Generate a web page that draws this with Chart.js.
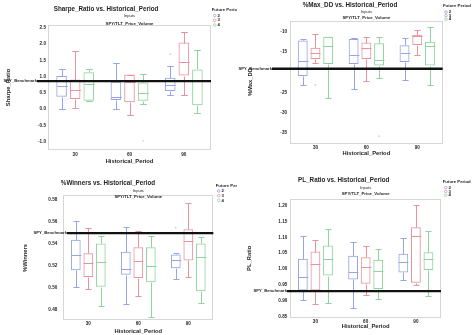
<!DOCTYPE html>
<html>
<head>
<meta charset="utf-8">
<script src="https://cdn.jsdelivr.net/npm/chart.js@4.4.1/dist/chart.umd.min.js"></script>
<style>
  html, body { margin: 0; padding: 0; background: #fff; }
  #wrap { position: relative; width: 474px; height: 335px; overflow: hidden; }
  canvas { position: absolute; }
</style>
</head>
<body>
<div id="wrap">
  <canvas id="c1" width="237" height="167" style="left:0;top:0"></canvas>
  <canvas id="c2" width="237" height="167" style="left:237px;top:0"></canvas>
  <canvas id="c3" width="237" height="168" style="left:0;top:167px"></canvas>
  <canvas id="c4" width="237" height="168" style="left:237px;top:167px"></canvas>
</div>
<script>
// --- data: [low whisker, Q1, median, Q3, high whisker] per historical period ---
const periods = ["30", "60", "90"];
const futurePeriods = ["2", "3", "4"];

const sharpeFut2 = [[0.01, 0.38, 0.71, 1.02, 1.22], [0.01, 0.28, 0.38, 0.84, 1.43], [0.45, 0.56, 0.74, 0.96, 1.32]];
const sharpeFut3 = [[0.04, 0.31, 0.58, 0.91, 1.79], [-0.19, 0.21, 0.84, 1.06, 1.06], [0.45, 1.03, 1.46, 2.04, 2.36]];
const sharpeFut4 = [[0.24, 0.26, 0.76, 1.13, 1.22], [0.15, 0.26, 0.50, 0.82, 1.08], [-0.11, 0.12, 0.85, 1.22, 1.81]];
const sharpeOutliers = [[1, 2, -0.97], [2, 0, 1.69]]; // [period, future, value]
const sharpeBenchmark = 0.86;

const maxddFut2 = [[-23.2, -20.9, -17.2, -12.1, -11.8], [-24.1, -17.9, -15.8, -11.7, -11.4], [-21.8, -17.4, -15.3, -13.3, -11.6]];
const maxddFut3 = [[-17.6, -16.7, -15.3, -13.9, -10.6], [-22.1, -16.7, -14.0, -12.6, -11.2], [-15.8, -13.2, -11.0, -10.7, -9.6]];
const maxddFut4 = [[-26.4, -17.9, -13.4, -11.2, -11.2], [-21.5, -18.3, -16.9, -12.8, -11.2], [-23.0, -18.3, -13.5, -12.4, -8.7]];
const maxddOutliers = [[0, 1, -23.1], [1, 2, -35.8]];
const maxddBenchmark = -19.1;

const winnersFut2 = [[0.501, 0.516, 0.530, 0.544, 0.561], [0.485, 0.512, 0.517, 0.533, 0.556], [0.508, 0.518, 0.5255, 0.5305, 0.5315]];
const winnersFut3 = [[0.499, 0.510, 0.523, 0.5315, 0.555], [0.493, 0.509, 0.5245, 0.537, 0.552], [0.510, 0.525, 0.543, 0.5535, 0.5775]];
const winnersFut4 = [[0.4835, 0.501, 0.524, 0.5405, 0.547], [0.473, 0.505, 0.520, 0.537, 0.547], [0.4865, 0.497, 0.5285, 0.5405, 0.5465]];
const winnersOutliers = [[2, 0, 0.555]];
const winnersBenchmark = 0.55;

const plFut2 = [[0.903, 0.932, 0.974, 1.032, 1.105], [0.877, 0.967, 0.990, 1.042, 1.084], [0.966, 0.989, 1.021, 1.048, 1.098]];
const plFut3 = [[0.888, 0.932, 1.016, 1.055, 1.092], [0.919, 0.953, 1.006, 1.037, 1.072], [0.948, 0.956, 1.103, 1.132, 1.202]];
const plFut4 = [[0.892, 0.979, 1.032, 1.074, 1.126], [0.906, 0.937, 0.992, 1.029, 1.063], [0.913, 0.997, 1.030, 1.053, 1.121]];
const plOutliers = [];
const plBenchmark = 0.93;

const seriesColors = ["#95a5e6", "#e8929f", "#8fd49c"];
const FONT = "'Liberation Sans', Arial, sans-serif";
const TEXT = "#1e1e1e";

// whiskers, medians, outliers, benchmark, titles and legend on top of the floating bars
const boxPlot = {
  id: "boxPlot",
  beforeDatasetsDraw(chart) {
    const { ctx, chartArea: a } = chart;
    ctx.save();
    ctx.strokeStyle = "#d6d6d6";
    ctx.lineWidth = 1;
    ctx.strokeRect(Math.round(a.left) + 0.5, Math.round(a.top) + 0.5,
      Math.round(a.right - a.left) - 1, Math.round(a.bottom - a.top) - 1);
    ctx.restore();
  },
  afterDatasetsDraw(chart, args, opts) {
    const { ctx, chartArea: a, scales: { y } } = chart;
    const px = v => Math.round(v) + 0.5;
    const py = v => px(y.getPixelForValue(v));
    ctx.save();
    ctx.lineWidth = 1;
    chart.data.datasets.forEach((ds, i) => {
      chart.getDatasetMeta(i).data.forEach((bar, j) => {
        const [lo, q1, med, q3, hi] = ds.stats[j];
        const x = px(bar.x), half = bar.width / 2, cap = half * 0.62;
        ctx.strokeStyle = ds.borderColor;
        ctx.beginPath();
        ctx.moveTo(x, py(hi)); ctx.lineTo(x, py(q3));
        ctx.moveTo(x, py(q1)); ctx.lineTo(x, py(lo));
        ctx.moveTo(x - cap, py(hi)); ctx.lineTo(x + cap, py(hi));
        ctx.moveTo(x - cap, py(lo)); ctx.lineTo(x + cap, py(lo));
        ctx.moveTo(x - half, py(med)); ctx.lineTo(x + half, py(med));
        ctx.stroke();
      });
    });
    opts.outliers.forEach(([p, s, v]) => {
      const bar = chart.getDatasetMeta(s).data[p];
      ctx.fillStyle = seriesColors[s] + "99";
      ctx.beginPath();
      ctx.arc(bar.x, y.getPixelForValue(v), 0.9, 0, Math.PI * 2);
      ctx.fill();
    });
    // benchmark
    const by = y.getPixelForValue(opts.bench);
    ctx.strokeStyle = "#111";
    ctx.lineWidth = 2.4;
    ctx.beginPath();
    ctx.moveTo(opts.benchX, by);
    ctx.lineTo(a.right, by);
    ctx.stroke();
    ctx.fillStyle = TEXT;
    ctx.font = "bold 4.2px " + FONT;
    ctx.textAlign = "right";
    ctx.textBaseline = "middle";
    ctx.fillText("SPY_Benchmark", opts.benchX, by);
    ctx.restore();
  },
  afterDraw(chart, args, opts) {
    const { ctx, chartArea: a } = chart;
    const mid = (a.left + a.right) / 2;
    ctx.save();
    ctx.fillStyle = TEXT;
    ctx.textBaseline = "middle";
    ctx.textAlign = "center";
    ctx.font = "bold 6.3px " + FONT;
    ctx.fillText(opts.title, opts.titleX, opts.titleY);
    ctx.font = "4.1px " + FONT;
    ctx.fillText("Inputs", mid, opts.subY[0]);
    ctx.font = "bold 4.3px " + FONT;
    ctx.fillText("SPY/TLT_Price_Volume", mid, opts.subY[1]);
    // legend
    ctx.textAlign = "left";
    ctx.font = "bold 4.3px " + FONT;
    ctx.fillText("Future Period", opts.legX, opts.legY);
    futurePeriods.forEach((f, i) => {
      const ly = opts.legY0 + i * opts.legDy;
      ctx.strokeStyle = seriesColors[i];
      ctx.lineWidth = 0.8;
      ctx.beginPath();
      ctx.arc(opts.legX + 3, ly, 1.3, 0, Math.PI * 2);
      ctx.stroke();
      ctx.fillStyle = TEXT;
      ctx.fillText(f, opts.legX + 5.8, ly);
    });
    ctx.restore();
  }
};

function makePanel(p) {
  const datasets = p.fut.map((s, i) => ({
    label: futurePeriods[i],
    data: s.map(b => [b[1], b[3]]),
    stats: s,
    borderColor: seriesColors[i],
    backgroundColor: "rgba(255,255,255,0)",
    borderWidth: 1,
    borderSkipped: false,
    categoryPercentage: 0.75,
    barPercentage: 0.78
  }));

  return new Chart(document.getElementById(p.id), {
    type: "bar",
    data: { labels: periods, datasets },
    options: {
      responsive: false,
      animation: false,
      layout: { padding: p.pad },
      plugins: {
        legend: { display: false },
        title: { display: false },
        tooltip: { enabled: false },
        boxPlot: p.overlay
      },
      scales: {
        x: {
          grid: { display: false, drawTicks: false },
          border: { display: false },
          ticks: { color: TEXT, padding: p.xTickPad, font: { family: FONT, size: 4.6, weight: "bold" } },
          title: {
            display: true, text: "Historical_Period", color: TEXT,
            padding: { top: 0, bottom: p.xTitlePad },
            font: { family: FONT, size: 5.8, weight: "bold" }
          },
          afterFit(s) { s.height = p.xH; }
        },
        y: {
          min: p.min,
          max: p.max,
          grid: { display: false, drawTicks: false },
          border: { display: false },
          ticks: {
            stepSize: p.step,
            includeBounds: false,
            color: TEXT,
            padding: p.yTickPad,
            font: { family: FONT, size: 4.6, weight: "bold" },
            callback: v => (p.hide || []).includes(v) ? "" : v.toFixed(p.digits)
          },
          title: {
            display: true, text: p.yTitle, color: TEXT,
            padding: { top: p.yTitlePad, bottom: 0 },
            font: { family: FONT, size: 5.8, weight: "bold" }
          },
          afterFit(s) { s.width = p.yW; }
        }
      }
    },
    plugins: [boxPlot]
  });
}

makePanel({
  id: "c1", yTitle: "Sharpe_Ratio",
  fut: [sharpeFut2, sharpeFut3, sharpeFut4],
  min: -1.25, max: 2.58, step: 0.5, digits: 1,
  pad: { left: 0, right: 26, top: 25, bottom: 0 }, yW: 48, xH: 17,
  xTickPad: 1.5, xTitlePad: 2, yTickPad: 2, yTitlePad: 4.7,
  overlay: {
    title: "Sharpe_Ratio vs. Historical_Period", titleX: 106, titleY: 9, subY: [15.7, 24],
    legX: 211.7, legY: 9.5, legY0: 15.5, legDy: 4.8,
    outliers: sharpeOutliers, bench: sharpeBenchmark, benchX: 37
  }
});

makePanel({
  id: "c2", yTitle: "%Max_DD",
  fut: [maxddFut2, maxddFut3, maxddFut4],
  min: -37.6, max: -7.2, step: 5, digits: 0, hide: [-20],
  pad: { left: 0, right: 31.3, top: 20.7, bottom: 0 }, yW: 53, xH: 23.5,
  xTickPad: 1.6, xTitlePad: 10.4, yTickPad: 3, yTitlePad: 10,
  overlay: {
    title: "%Max_DD vs. Historical_Period", titleX: 113, titleY: 5.7, subY: [11.7, 18],
    legX: 206, legY: 5.5, legY0: 12, legDy: 3.6,
    outliers: maxddOutliers, bench: maxddBenchmark, benchX: 35
  }
});

makePanel({
  id: "c3", yTitle: "%Winners",
  fut: [winnersFut2, winnersFut3, winnersFut4],
  min: 0.47, max: 0.5845, step: 0.02, digits: 2,
  pad: { left: 0, right: 23.7, top: 28.3, bottom: 0 }, yW: 63.3, xH: 14.3,
  xTickPad: 0.5, xTitlePad: 0, yTickPad: 6, yTitlePad: 21.7,
  overlay: {
    title: "%Winners vs. Historical_Period", titleX: 108, titleY: 16.7, subY: [24, 30],
    legX: 215.7, legY: 19, legY0: 24, legDy: 4.7,
    outliers: winnersOutliers, bench: winnersBenchmark, benchX: 67
  }
});

makePanel({
  id: "c4", yTitle: "PL_Ratio",
  fut: [plFut2, plFut3, plFut4],
  min: 0.845, max: 1.222, step: 0.05, digits: 2,
  pad: { left: 0, right: 33, top: 31.7, bottom: 0 }, yW: 53.3, xH: 17,
  xTickPad: 0.8, xTitlePad: 5.2, yTickPad: 3, yTitlePad: 9,
  overlay: {
    title: "PL_Ratio vs. Historical_Period", titleX: 106.7, titleY: 13.3, subY: [20.7, 27.3],
    legX: 205.7, legY: 15, legY0: 20.7, legDy: 3.8,
    outliers: plOutliers, bench: plBenchmark, benchX: 50
  }
});
</script>
</body>
</html>
